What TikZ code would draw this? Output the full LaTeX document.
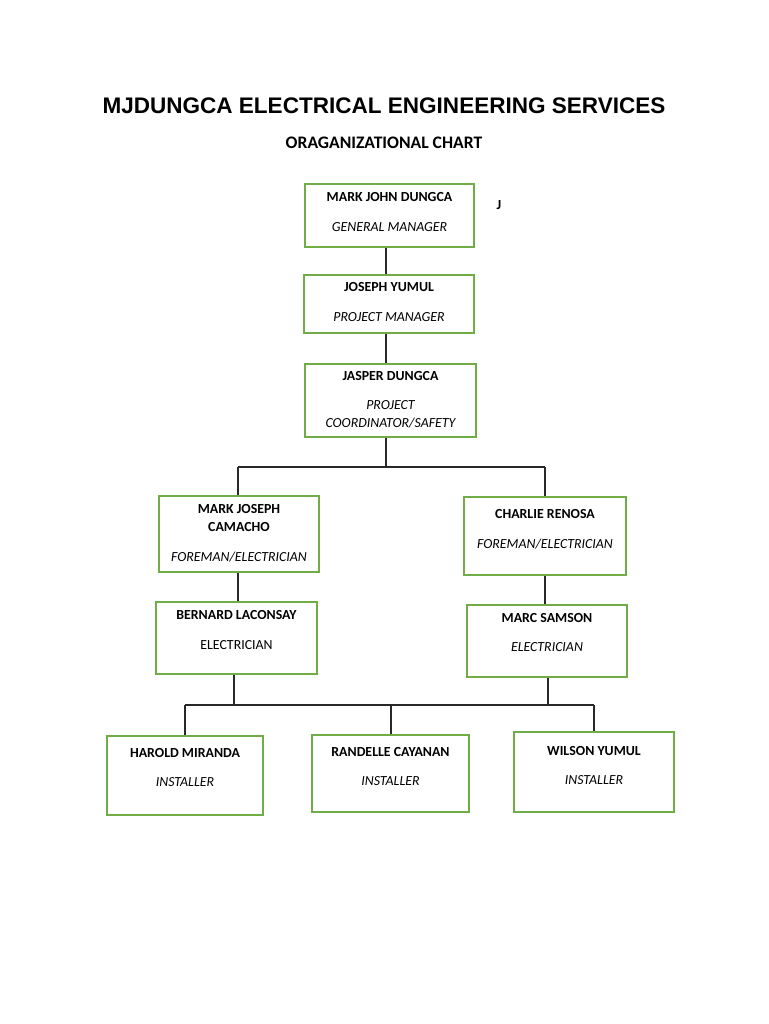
\documentclass[tikz,border=0pt]{standalone}
\usepackage{fontspec}
\setmainfont{Carlito}
\newfontfamily\titlefont{Liberation Sans}
\usetikzlibrary{calc, positioning, fit}

\definecolor{boxgreen}{RGB}{112,173,71}
\definecolor{linegray}{RGB}{40,40,40}

\tikzset{
  orgbox/.style={draw=boxgreen, line width=0.9pt, inner sep=0pt},
  namelbl/.style={font=\fontsize{10.4}{13.5}\selectfont\bfseries, align=center, inner sep=0pt},
  rolelbl/.style={font=\fontsize{10.4}{13.5}\selectfont\itshape, align=center, inner sep=0pt},
  link/.style={draw=linegray, line width=0.8pt}
}

\begin{document}
\begin{tikzpicture}[x=0.75pt, y=-0.75pt]
\def\busA{467}
\def\busB{705}

\useasboundingbox (0,0) rectangle (768,1024);

% headings
\node[font=\titlefont\fontsize{16.9}{20}\selectfont\bfseries] (title) at (384,106) {MJDUNGCA ELECTRICAL ENGINEERING SERVICES};
\node[font=\fontsize{13.2}{16}\selectfont\bfseries] (subtitle) at (384,143) {ORAGANIZATIONAL CHART};

% boxes
\node[orgbox, fit={(305,184) (474,247)}] (gm) {};
\node[orgbox, fit={(304,275) (474,333)}] (pm) {};
\node[orgbox, fit={(305,364) (476,437)}] (pc) {};
\node[orgbox, fit={(159,496) (319,572)}] (fl) {};
\node[orgbox, fit={(464,497) (626,575)}] (fr) {};
\node[orgbox, fit={(156,602) (317,674)}] (el) {};
\node[orgbox, fit={(467,605) (627,677)}] (er) {};
\node[orgbox, fit={(107,736) (263,815)}] (ia) {};
\node[orgbox, fit={(312,735) (469,812)}] (ib) {};
\node[orgbox, fit={(514,732) (674,812)}] (ic) {};

% texts
\node[namelbl] (gmname) at ($(gm.north)+(0,14)$) {MARK JOHN DUNGCA};
\node[rolelbl] (gmrole) at ($(gm.north)+(0,44)$) {GENERAL MANAGER};
\node[namelbl] (jmark) at (499,205) {J};

\node[namelbl] (pmname) at ($(pm.north)+(0,13)$) {JOSEPH YUMUL};
\node[rolelbl] (pmrole) at ($(pm.north)+(0,43)$) {PROJECT MANAGER};

\node[namelbl] (pcname) at ($(pc.north)+(0,13)$) {JASPER DUNGCA};
\node[rolelbl] (pcrole) at ($(pc.north)+(0,51)$) {PROJECT\\COORDINATOR/SAFETY};

\node[namelbl] (flname) at ($(fl.north)+(0,23)$) {MARK JOSEPH\\CAMACHO};
\node[rolelbl] (flrole) at ($(fl.north)+(0,62)$) {FOREMAN/ELECTRICIAN};

\node[namelbl] (frname) at ($(fr.north)+(0,18)$) {CHARLIE RENOSA};
\node[rolelbl] (frrole) at ($(fr.north)+(0,48)$) {FOREMAN/ELECTRICIAN};

\node[namelbl] (elname) at ($(el.north)+(0,14)$) {BERNARD LACONSAY};
\node[namelbl, font=\fontsize{10.4}{13.5}\selectfont] (elrole) at ($(el.north)+(0,44)$) {ELECTRICIAN};

\node[namelbl] (ername) at ($(er.north)+(0,14)$) {MARC SAMSON};
\node[rolelbl] (errole) at ($(er.north)+(0,43)$) {ELECTRICIAN};

\node[namelbl] (ianame) at ($(ia.north)+(0,18)$) {HAROLD MIRANDA};
\node[rolelbl] (iarole) at ($(ia.north)+(0,47)$) {INSTALLER};

\node[namelbl] (ibname) at ($(ib.north)+(0,18)$) {RANDELLE CAYANAN};
\node[rolelbl] (ibrole) at ($(ib.north)+(0,47)$) {INSTALLER};

\node[namelbl] (icname) at ($(ic.north)+(0,20)$) {WILSON YUMUL};
\node[rolelbl] (icrole) at ($(ic.north)+(0,49)$) {INSTALLER};

% connectors
\coordinate (spine) at (386,\busA);
\coordinate (busAL) at (238,\busA);
\coordinate (busAR) at (545,\busA);
\coordinate (busBL) at (185,\busB);
\coordinate (busBM) at (391,\busB);
\coordinate (busBR) at (594,\busB);
\coordinate (dropL) at (234,\busB);
\coordinate (dropR) at (548,\busB);

\draw[link] (spine |- gm.south) -- (spine |- pm.north);
\draw[link] (spine |- pm.south) -- (spine |- pc.north);
\draw[link] (spine |- pc.south) -- (spine);
\draw[link] (busAL) -- (busAR);
\draw[link] (busAL) -- (busAL |- fl.north);
\draw[link] (busAR) -- (busAR |- fr.north);
\draw[link] (busAL |- fl.south) -- (busAL |- el.north);
\draw[link] (busAR |- fr.south) -- (busAR |- er.north);

\draw[link] (dropL |- el.south) -- (dropL);
\draw[link] (dropR |- er.south) -- (dropR);
\draw[link] (busBL) -- (busBR);
\draw[link] (busBL) -- (busBL |- ia.north);
\draw[link] (busBM) -- (busBM |- ib.north);
\draw[link] (busBR) -- (busBR |- ic.north);
\end{tikzpicture}
\end{document}
